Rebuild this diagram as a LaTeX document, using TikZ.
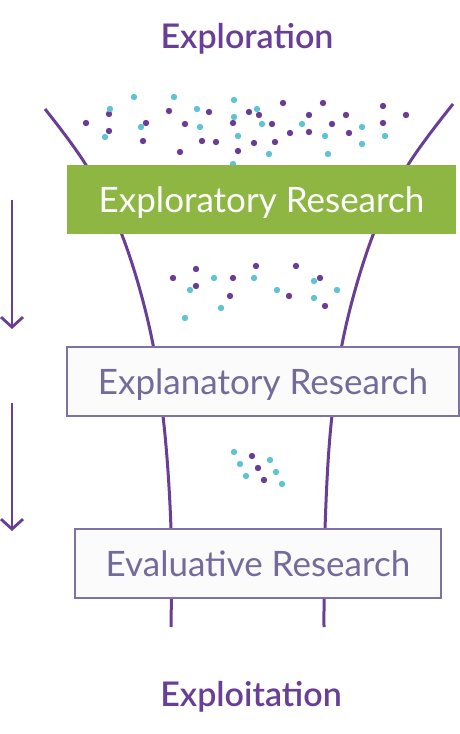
\documentclass[tikz,border=0pt]{standalone}
\usepackage{fontspec}
\setmainfont{Lato}
\IfFontExistsTF{Lato Semibold}{\newfontfamily\titlefont{Lato Semibold}}{\newfontfamily\titlefont{Lato}[UprightFont=*-Bold]}
\usetikzlibrary{arrows.meta}
\definecolor{funnelpurple}{HTML}{683E96}
\definecolor{dotpurple}{HTML}{6A3D94}
\definecolor{dotcyan}{HTML}{5FC3D3}
\definecolor{stagegreen}{HTML}{8DB742}
\definecolor{stageline}{HTML}{7D72A3}
\definecolor{stagetext}{HTML}{756B9B}
\definecolor{stagefill}{HTML}{FBFBFB}
\begin{document}
\begin{tikzpicture}[x=1pt, y=-1pt,
    funnel/.style={draw=funnelpurple, line width=3pt},
    pdot/.style={fill=dotpurple},
    cdot/.style={fill=dotcyan},
    stage/.style={draw=stageline, line width=1.2pt, fill=stagefill, text=stagetext,
      minimum height=69pt, text depth=0pt, font=\fontsize{35}{42}\selectfont},
    title/.style={text=funnelpurple, font=\fontsize{34}{40}\selectfont\titlefont},
    progress/.style={draw=funnelpurple, line width=2.8pt, -{Straight Barb[length=10pt, width=22pt, line width=2.8pt]}}]
  \useasboundingbox (0, 0) rectangle (460, 734);
  % lines
  \draw[funnel] plot[smooth, tension=0.6] coordinates {(45, 109) (86, 165) (122, 235) (150, 330) (164, 425) (171, 529) (171, 627)};
  \draw[funnel] plot[smooth, tension=0.6] coordinates {(453, 104) (408, 165) (373, 235) (345, 330) (331, 425) (325, 529) (324, 627)};
  % dots
  \foreach \x/\y in {86/123, 109/114, 109/131, 146/123, 143/141, 169/111, 185/124, 180/152,
      209/112, 202/141, 216/142, 233/123, 238/151, 249/112, 259/115, 254/143, 272/124,
      275/142, 283/103, 290/133, 309/115, 309/132, 323/103, 332/124, 346/115, 349/133,
      383/106, 383/123, 406/115,
      173/278, 196/269, 196/286, 233/278, 230/296, 256/266, 296/266, 289/296, 320/278, 325/306,
      252/456, 258/468, 264/480}
    \fill[pdot] (\x, \y) circle[radius=3.2pt];
  \foreach \x/\y in {110/109, 105/137, 134/97, 141/127, 174/97, 197/109, 200/127, 234/100,
      234/117, 238/136, 233/164, 257/109, 262/124, 269/154, 302/124, 325/136, 328/154,
      362/127, 362/144, 385/136,
      190/290, 214/278, 221/308, 185/318, 254/278, 277/290, 314/281, 314/298, 337/290,
      234/452, 240/464, 246/476, 270/460, 276/472, 282/484}
    \fill[cdot] (\x, \y) circle[radius=3.2pt];
  % nodes
  \node[title] (exploration) at (247, 39) {Exploration};
  \node[title] (exploitation) at (251, 697) {Exploitation};
  \node[fill=stagegreen, text=white, minimum width=389pt, minimum height=69pt, text depth=0pt,
    font=\fontsize{35}{42}\selectfont] (exploratory) at (261.5, 199.5) {Exploratory Research};
  \node[stage, minimum width=392pt] (explanatory) at (263, 381.5) {Explanatory Research};
  \node[stage, minimum width=366pt] (evaluative) at (258, 563.5) {Evaluative Research};
  % arrows
  \coordinate (firsttop) at (12, 200);
  \coordinate (firstend) at (12, 329);
  \coordinate (secondtop) at (12, 403);
  \coordinate (secondend) at (12, 531);
  \draw[progress] (firsttop) -- (firstend);
  \draw[progress] (secondtop) -- (secondend);
\end{tikzpicture}
\end{document}
